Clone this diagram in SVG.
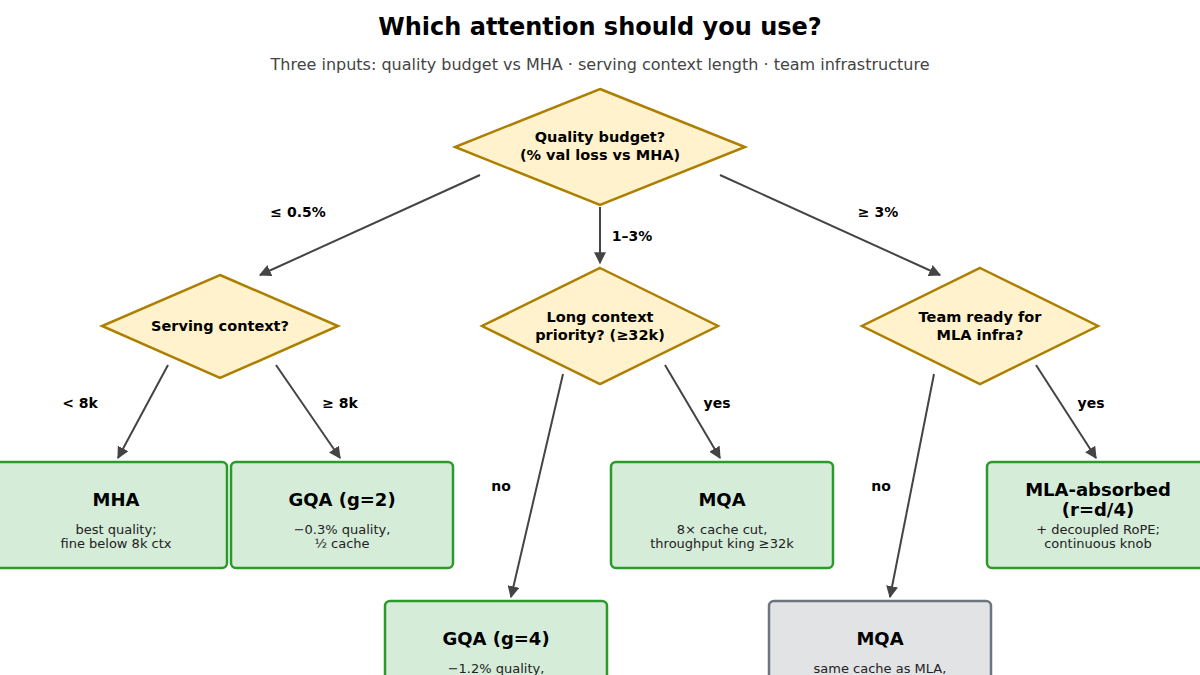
<svg xmlns="http://www.w3.org/2000/svg" width="1200" height="675" viewBox="0 0 1200 675">
<style>
text{font-family:"DejaVu Sans","Liberation Sans",sans-serif;text-anchor:middle}
.d{fill:#fff2cc;stroke:#ad7f00;stroke-width:2.5}
.dt{font-size:14.5px;font-weight:bold;fill:#000}
.b{fill:#d5ecd9;stroke:#2a9a2a;stroke-width:2.5}
.g{fill:#e2e3e5;stroke:#6c757d;stroke-width:2.5}
.bt{font-size:18px;font-weight:bold;fill:#000}
.bs{font-size:13px;fill:#222}
.c{stroke:#444;stroke-width:2;fill:none;marker-end:url(#a)}
.l{font-size:14px;font-weight:bold;fill:#000}
</style>
<defs><marker id="a" viewBox="0 0 10 10" refX="9" refY="5" markerWidth="6" markerHeight="6" orient="auto"><path d="M0,0L10,5L0,10z" fill="#444"/></marker></defs>
<rect width="1200" height="675" fill="#fff"/>
<text x="600" y="35" font-size="24" font-weight="bold">Which attention should you use?</text>
<text x="600" y="70" font-size="16" fill="#444">Three inputs: quality budget vs MHA · serving context length · team infrastructure</text>
<g id="connectors">
<path class="c" d="M480,175L260,275"/>
<path class="c" d="M600,207L600,263"/>
<path class="c" d="M720,175L940,275"/>
<path class="c" d="M168,365L118,458"/>
<path class="c" d="M276,365L340,458"/>
<path class="c" d="M563,374L511,597"/>
<path class="c" d="M665,365L720,458"/>
<path class="c" d="M934,374L890,597"/>
<path class="c" d="M1036,365L1096,458"/>
<text class="l" x="298" y="217">≤ 0.5%</text>
<text class="l" x="632" y="241">1–3%</text>
<text class="l" x="878" y="217">≥ 3%</text>
<text class="l" x="80" y="408">&lt; 8k</text>
<text class="l" x="340" y="408">≥ 8k</text>
<text class="l" x="501" y="491">no</text>
<text class="l" x="717" y="408">yes</text>
<text class="l" x="881" y="491">no</text>
<text class="l" x="1091" y="408">yes</text>
</g>
<g id="q1"><path class="d" d="M600,89L745,147L600,205L455,147z"/><text class="dt" x="600" y="142">Quality budget?</text><text class="dt" x="600" y="160">(% val loss vs MHA)</text></g>
<g id="q2"><path class="d" d="M220,275L338,326L220,378L102,326z"/><text class="dt" x="220" y="331">Serving context?</text></g>
<g id="q3"><path class="d" d="M600,268L718,326L600,384L482,326z"/><text class="dt" x="600" y="322">Long context</text><text class="dt" x="600" y="340">priority? (≥32k)</text></g>
<g id="q4"><path class="d" d="M980,268L1098,326L980,384L862,326z"/><text class="dt" x="980" y="322">Team ready for</text><text class="dt" x="980" y="340">MLA infra?</text></g>
<g id="mha"><rect class="b" x="-10" y="462" width="237" height="106" rx="5"/><text class="bt" x="116" y="506">MHA</text><text class="bs" x="116" y="534">best quality;</text><text class="bs" x="116" y="548">fine below 8k ctx</text></g>
<g id="gqa2"><rect class="b" x="231" y="462" width="222" height="106" rx="5"/><text class="bt" x="342" y="506">GQA (g=2)</text><text class="bs" x="342" y="534">−0.3% quality,</text><text class="bs" x="342" y="548">½ cache</text></g>
<g id="mqa1"><rect class="b" x="611" y="462" width="222" height="106" rx="5"/><text class="bt" x="722" y="506">MQA</text><text class="bs" x="722" y="534">8× cache cut,</text><text class="bs" x="722" y="548">throughput king ≥32k</text></g>
<g id="mla"><rect class="b" x="987" y="462" width="240" height="106" rx="5"/><text class="bt" x="1098" y="496">MLA-absorbed</text><text class="bt" x="1098" y="516">(r=d/4)</text><text class="bs" x="1098" y="534">+ decoupled RoPE;</text><text class="bs" x="1098" y="548">continuous knob</text></g>
<g id="gqa4"><rect class="b" x="385" y="601" width="222" height="106" rx="5"/><text class="bt" x="496" y="645">GQA (g=4)</text><text class="bs" x="496" y="673">−1.2% quality,</text></g>
<g id="mqa2"><rect class="g" x="769" y="601" width="222" height="106" rx="5"/><text class="bt" x="880" y="645">MQA</text><text class="bs" x="880" y="673">same cache as MLA,</text></g>
</svg>
